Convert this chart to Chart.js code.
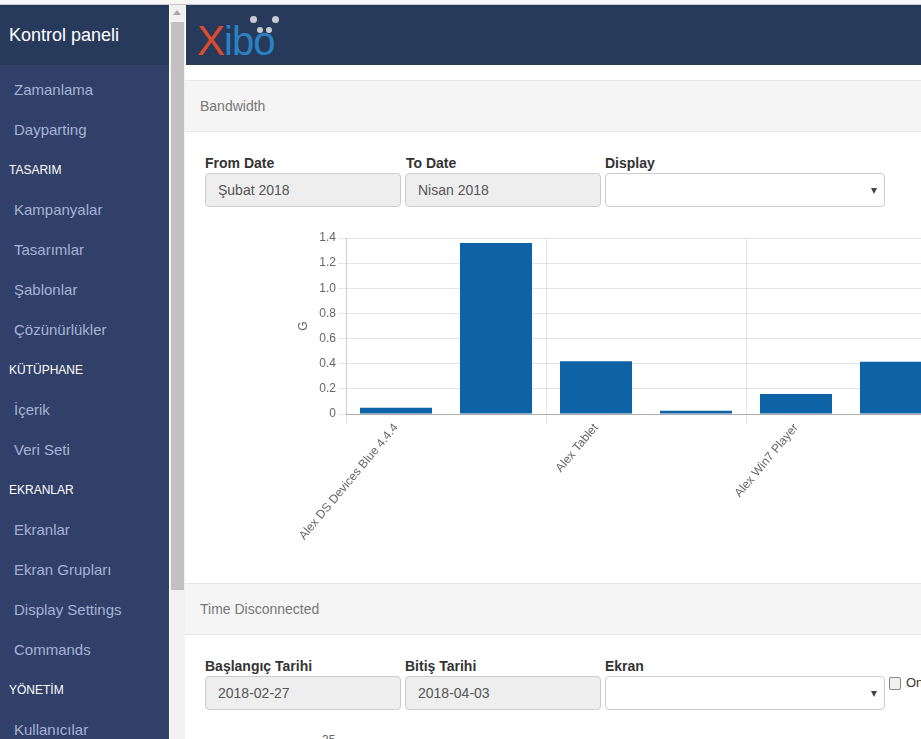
<!DOCTYPE html>
<html>
<head>
<meta charset="utf-8">
<title>Bandwidth</title>
<script src="https://cdn.jsdelivr.net/npm/chart.js@4"></script>
<style>
html, body { margin: 0; padding: 0; width: 921px; height: 739px; overflow: hidden; background: #fff; font-family: "Liberation Sans", Arial, sans-serif; }
.abs { position: absolute; white-space: nowrap; }
#topline { position: absolute; left: 0; top: 0; width: 921px; height: 4px; background: #f7f7f7; border-bottom: 1px solid #c8c8c8; }
#sidebar { position: absolute; left: 0; top: 5px; width: 169px; height: 734px; background: #304068; overflow: hidden; }
#brand { height: 60px; background: #283a5c; color: #fff; font-size: 18px; line-height: 60px; padding-left: 9px; }
#nav { position: absolute; top: 65px; left: 0; width: 169px; }
#nav div { height: 40px; line-height: 40px; }
#nav .item { padding-left: 14px; font-size: 15px; color: #a7b3d6; }
#nav .head { padding-left: 9px; font-size: 12px; color: #fff; }
#track { position: absolute; left: 170px; top: 5px; width: 15px; height: 734px; background: #f1f1f1; }
#thumb { position: absolute; left: 1px; top: 17px; width: 13px; height: 568px; background: #c1c1c1; }
#arrow { position: absolute; left: 3px; top: 5px; width: 0; height: 0; border-left: 4px solid transparent; border-right: 4px solid transparent; border-bottom: 5px solid #a8a8a8; }
#header { position: absolute; left: 186px; top: 5px; width: 735px; height: 60px; background: #283a5c; }
.x { position: absolute; left: 11px; top: 14px; font-size: 42px; line-height: 44px; color: #dc4c2a; }
.ibo { position: absolute; left: 38px; top: 14px; font-size: 40px; line-height: 44px; color: #2b82c2; letter-spacing: -1px; }
.dot { position: absolute; border-radius: 50%; background: #c9ccd2; }
.panel { position: absolute; left: 185px; width: 736px; height: 50px; background: #f5f5f5; border-top: 1px solid #e7e7e7; border-bottom: 1px solid #e7e7e7; line-height: 50px; font-size: 14px; color: #777; }
.panel span { padding-left: 15px; }
.lab { position: absolute; font-size: 14px; font-weight: bold; color: #333; white-space: nowrap; }
.field { position: absolute; box-sizing: border-box; height: 34px; border: 1px solid #ccc; border-radius: 4px; font-size: 14px; line-height: 32px; color: #555; padding-left: 12px; }
.ro { background: #eee; width: 196px; }
.sel { background: #fff; width: 280px; }
.sel::after { content: ""; position: absolute; right: 7px; top: 14px; border-left: 3px solid transparent; border-right: 3px solid transparent; border-top: 6px solid #444; }
#box { position: absolute; left: 889px; top: 677px; width: 10px; height: 11px; border: 1px solid #888; border-radius: 2px; background: #f0f0f0; }
#wrap { position: absolute; left: 290px; top: 228px; width: 631px; height: 330px; overflow: hidden; }
#chartDiv { position: relative; width: 656px; height: 328px; }
</style>
</head>
<body>
<div id="topline"></div>
<div id="sidebar">
  <div id="brand">Kontrol paneli</div>
  <div id="nav"></div>
</div>
<div id="track"><div id="arrow"></div><div id="thumb"></div></div>
<div id="header">
  <span class="x">X</span><span class="ibo">ibo</span>
  <div class="dot" style="left:64px;top:11px;width:7px;height:7px"></div>
  <div class="dot" style="left:86px;top:11px;width:7px;height:7px"></div>
  <div class="dot" style="left:71px;top:22px;width:6px;height:6px"></div>
  <div class="dot" style="left:80px;top:22px;width:6px;height:6px"></div>
</div>

<div class="panel" style="top:80px"><span>Bandwidth</span></div>
<div class="lab" style="left:205px;top:155px">From Date</div>
<div class="lab" style="left:406px;top:155px">To Date</div>
<div class="lab" style="left:605px;top:155px">Display</div>
<div class="field ro" style="left:205px;top:173px">Şubat 2018</div>
<div class="field ro" style="left:405px;top:173px">Nisan 2018</div>
<div class="field sel" style="left:605px;top:173px"></div>

<div id="wrap"><div id="chartDiv"><canvas id="bandwidth"></canvas></div></div>

<div class="panel" style="top:583px"><span>Time Disconnected</span></div>
<div class="lab" style="left:205px;top:658px">Başlangıç Tarihi</div>
<div class="lab" style="left:405px;top:658px">Bitiş Tarihi</div>
<div class="lab" style="left:605px;top:658px">Ekran</div>
<div class="field ro" style="left:205px;top:676px">2018-02-27</div>
<div class="field ro" style="left:405px;top:676px">2018-04-03</div>
<div class="field sel" style="left:605px;top:676px"></div>
<div id="box"></div>
<div class="abs" style="left:906px;top:675px;font-size:13px;color:#333;width:15px;overflow:hidden">Only</div>
<div class="abs" style="left:322px;top:733px;font-size:12px;color:#666">35</div>

<script>
const categories = ["Alex DS Devices Blue 4.4.4", "", "Alex Tablet", "", "Alex Win7 Player", ""];
const bandwidth = [0.05, 1.36, 0.42, 0.025, 0.16, 0.415];
const yTicks = [0, 0.2, 0.4, 0.6, 0.8, 1.0, 1.2, 1.4];
const navItems = [
  ["item", "Zamanlama"], ["item", "Dayparting"], ["head", "TASARIM"], ["item", "Kampanyalar"],
  ["item", "Tasarımlar"], ["item", "Şablonlar"], ["item", "Çözünürlükler"], ["head", "KÜTÜPHANE"],
  ["item", "İçerik"], ["item", "Veri Seti"], ["head", "EKRANLAR"], ["item", "Ekranlar"],
  ["item", "Ekran Grupları"], ["item", "Display Settings"], ["item", "Commands"], ["head", "YÖNETİM"],
  ["item", "Kullanıcılar"]
];

const nav = document.getElementById("nav");
navItems.forEach(([cls, text]) => {
  const row = document.createElement("div");
  row.className = cls;
  row.textContent = text;
  nav.appendChild(row);
});

Chart.defaults.font.family = '"Liberation Sans", Arial, sans-serif';
Chart.defaults.font.size = 12;
Chart.defaults.color = "#666";

new Chart(document.getElementById("bandwidth"), {
  type: "bar",
  data: {
    labels: categories,
    datasets: [{
      label: "G",
      data: bandwidth,
      backgroundColor: "#0e62a6",
      categoryPercentage: 0.8,
      barPercentage: 0.9
    }]
  },
  options: {
    responsive: true,
    maintainAspectRatio: false,
    animation: false,
    layout: { padding: { top: 10, left: 0, right: 0, bottom: 0 } },
    plugins: { legend: { display: false }, tooltip: { enabled: false } },
    scales: {
      x: {
        afterFit: (scale) => { scale.height = 142; scale.paddingLeft = 0; scale.paddingRight = 0; },
        grid: {
          offset: true,
          tickLength: 10,
          color: (ctx) => (ctx.index % 2 === 0 ? "rgba(0,0,0,0.1)" : "rgba(0,0,0,0)")
        },
        border: { color: "rgba(0,0,0,0.25)" },
        ticks: { autoSkip: false, minRotation: 50, maxRotation: 50, padding: -3 }
      },
      y: {
        min: 0,
        max: 1.4,
        afterFit: (scale) => { scale.width = 56; },
        afterBuildTicks: (scale) => { scale.ticks = yTicks.map((value) => ({ value })); },
        title: { display: true, text: "G", padding: { top: 6, bottom: 4 } },
        grid: { tickLength: 8, color: "rgba(0,0,0,0.1)" },
        border: { color: "rgba(0,0,0,0.1)" },
        ticks: { padding: 2, callback: (v) => (v === 0 ? "0" : v.toFixed(1)) }
      }
    }
  }
});
</script>
</body>
</html>
